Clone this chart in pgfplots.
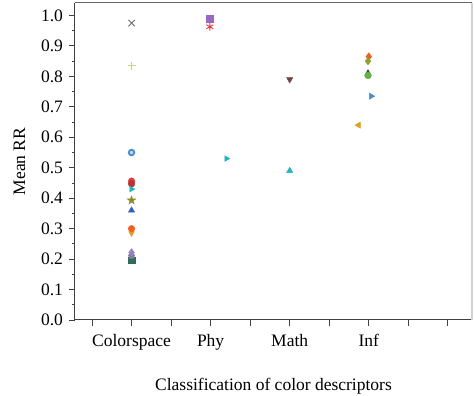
\documentclass[border=0pt]{standalone}
\usepackage{fontspec}
\setmainfont{Liberation Serif}
\usepackage{pgfplots}
\pgfplotsset{compat=1.18}
\pgfdeclareplotmark{fstar}{%
  \pgfpathmoveto{\pgfpointpolar{90}{1.25\pgfplotmarksize}}%
  \pgfpathlineto{\pgfpointpolar{126}{0.5\pgfplotmarksize}}%
  \pgfpathlineto{\pgfpointpolar{162}{1.25\pgfplotmarksize}}%
  \pgfpathlineto{\pgfpointpolar{198}{0.5\pgfplotmarksize}}%
  \pgfpathlineto{\pgfpointpolar{234}{1.25\pgfplotmarksize}}%
  \pgfpathlineto{\pgfpointpolar{270}{0.5\pgfplotmarksize}}%
  \pgfpathlineto{\pgfpointpolar{306}{1.25\pgfplotmarksize}}%
  \pgfpathlineto{\pgfpointpolar{342}{0.5\pgfplotmarksize}}%
  \pgfpathlineto{\pgfpointpolar{18}{1.25\pgfplotmarksize}}%
  \pgfpathlineto{\pgfpointpolar{54}{0.5\pgfplotmarksize}}%
  \pgfpathclose\pgfusepathqfillstroke}
\definecolor{cgray}{HTML}{6A6A6A}
\definecolor{cyg}{HTML}{C6D878}
\definecolor{cblue}{HTML}{4A8EC8}
\definecolor{clblue}{HTML}{BFD9EE}
\definecolor{cred}{HTML}{E03A3A}
\definecolor{ccyan}{HTML}{22B2C2}
\definecolor{colive}{HTML}{8C8C2C}
\definecolor{cdblue}{HTML}{3060C0}
\definecolor{corange}{HTML}{F06020}
\definecolor{cgold}{HTML}{E0A020}
\definecolor{cpurple}{HTML}{9484C4}
\definecolor{cpgray}{HTML}{8878A0}
\definecolor{cteal}{HTML}{2F6A5A}
\definecolor{cvio}{HTML}{9A68C0}
\definecolor{cbrown}{HTML}{704444}
\definecolor{colgr}{HTML}{90A030}
\definecolor{cgreen}{HTML}{62B244}
\begin{document}
\fontsize{17.5}{21}\selectfont
\begin{tikzpicture}
\begin{axis}[
  scale only axis,
  width=397pt, height=317pt,
  xmin=0.285, xmax=5.305,
  ymin=0, ymax=1.041,
  axis line style={draw=none},
  xtick={0.5,1,1.5,2,2.5,3,3.5,4,4.5,5},
  xticklabels={,Colorspace,,Phy,,Math,,Inf,,},
  ytick={0,0.1,...,1.0},
  minor ytick={0.05,0.15,...,1.0},
  yticklabel style={/pgf/number format/.cd,fixed,fixed zerofill,precision=1,assume math mode=true},
  tick align=outside,
  xtick pos=bottom, ytick pos=left,
  major tick length=6pt, minor tick length=3pt,
  tick style={black!75, line width=0.9pt},
  xlabel={Classification of color descriptors},
  ylabel={Mean RR},
  label style={font=\fontsize{17.5}{21}\selectfont},
  ticklabel style={font=\fontsize{17.5}{21}\selectfont},
  xticklabel style={yshift=-2pt},
  xlabel style={yshift=-16pt},
  ylabel style={yshift=4pt},
  mark size=3.3pt,
  clip=false,
]
% frame
\draw[black!75, line width=1pt] (rel axis cs:0,1) -- (rel axis cs:0,0) -- (rel axis cs:1,0);
\draw[black!60, line width=1pt] (rel axis cs:0,1) -- (rel axis cs:1,1);
\draw[black!18, line width=1.2pt] (rel axis cs:1,0) -- (rel axis cs:1,1);
% Colorspace
\addplot[only marks, mark=x, mark size=4.5pt, cgray, line width=0.9pt] coordinates {(1.0,0.975)};
\addplot[only marks, mark=+, mark size=4pt, cyg, line width=0.9pt] coordinates {(1.0,0.835)};
\addplot[only marks, mark=*, mark options={draw=cblue, fill=clblue, line width=1.8pt}, mark size=2.8pt] coordinates {(1.0,0.55)};
\addplot[only marks, mark=*, cred] coordinates {(1.0,0.456)};
\addplot[only marks, mark=*, cred!85!black] coordinates {(1.0,0.447)};
\addplot[only marks, mark=triangle*, mark options={rotate=-90}, ccyan] coordinates {(1.0,0.43)};
\addplot[only marks, mark=fstar, colive, mark size=3.6pt] coordinates {(1.0,0.393)};
\addplot[only marks, mark=triangle*, cdblue, mark size=3.6pt] coordinates {(1.0,0.36)};
\addplot[only marks, mark=triangle*, mark options={rotate=180}, cgold] coordinates {(1.0,0.285)};
\addplot[only marks, mark=*, corange] coordinates {(1.0,0.30)};
\addplot[only marks, mark=square*, cteal] coordinates {(1.0,0.197)};
\addplot[only marks, mark=pentagon*, cpgray] coordinates {(1.0,0.21)};
\addplot[only marks, mark=diamond*, cpurple, mark size=3.8pt] coordinates {(1.0,0.222)};
% Phy
\addplot[only marks, mark=square*, cvio] coordinates {(1.99,0.99)};
\addplot[only marks, mark=asterisk, cred, mark size=4pt, line width=0.9pt] coordinates {(1.99,0.963)};
\addplot[only marks, mark=triangle*, mark options={rotate=-90}, ccyan] coordinates {(2.2,0.53)};
% Math
\addplot[only marks, mark=triangle*, mark options={rotate=180}, cbrown, mark size=3.6pt] coordinates {(3.0,0.79)};
\addplot[only marks, mark=triangle*, ccyan, mark size=3.6pt] coordinates {(3.0,0.49)};
% Inf
\addplot[only marks, mark=diamond*, corange, mark size=3.8pt] coordinates {(4.0,0.865)};
\addplot[only marks, mark=diamond*, colgr, mark size=3.8pt] coordinates {(3.99,0.85)};
\addplot[only marks, mark=triangle*, black!75, mark size=2.2pt] coordinates {(3.99,0.815)};
\addplot[only marks, mark=*, cgreen, mark size=3.4pt] coordinates {(3.99,0.803)};
\addplot[only marks, mark=triangle*, mark options={rotate=-90}, cblue, mark size=3.6pt] coordinates {(4.03,0.735)};
\addplot[only marks, mark=triangle*, mark options={rotate=90}, cgold, mark size=3.6pt] coordinates {(3.87,0.64)};
\end{axis}
\pgfresetboundingbox
\path (current axis.south west) ++(-75pt,-76pt) rectangle ++(474pt,396pt);
\end{tikzpicture}
\end{document}
